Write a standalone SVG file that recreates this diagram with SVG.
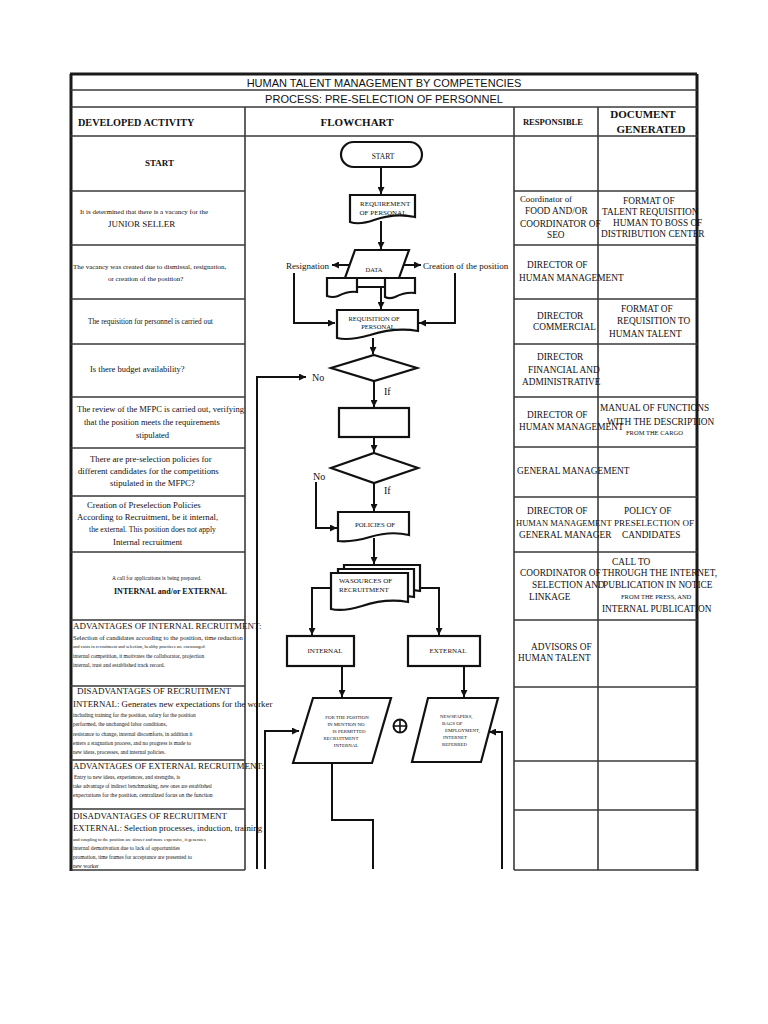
<svg xmlns="http://www.w3.org/2000/svg" width="768" height="1024" viewBox="0 0 768 1024">
<style>
.sr{font-family:"Liberation Serif","Times New Roman",serif;fill:#111}
.ss{font-family:"Liberation Sans",Arial,sans-serif;fill:#111}
.b{font-weight:bold}
.tl{stroke:#3a3a3a;stroke-width:1.6;fill:none}
.tk{stroke:#1a1a1a;stroke-width:3;fill:none}
.sh{fill:#fff;stroke:#111;stroke-width:2.2}
.c{fill:none;stroke:#111;stroke-width:2}
.m{text-anchor:middle}
</style>
<defs>
<marker id="ah" markerUnits="userSpaceOnUse" markerWidth="8" markerHeight="7" refX="7" refY="3.5" orient="auto">
<path d="M0,0 L7,3.5 L0,7 z" fill="#111"/>
</marker>
</defs>
<rect x="0" y="0" width="768" height="1024" fill="#fff"/>

<g id="table">
<line class="tk" x1="70" y1="74" x2="697" y2="74"/>
<line class="tk" x1="71" y1="74" x2="71" y2="871"/>
<line class="tk" x1="697" y1="74" x2="697" y2="871"/>
<line class="tl" x1="71" y1="90" x2="697" y2="90" stroke-width="2.2"/>
<line class="tl" x1="71" y1="107" x2="697" y2="107" stroke-width="2.2"/>
<line class="tl" x1="71" y1="136" x2="697" y2="136"/>
<line class="tl" x1="245" y1="107" x2="245" y2="870"/>
<line class="tl" x1="514" y1="107" x2="514" y2="870"/>
<line class="tl" x1="598" y1="107" x2="598" y2="870"/>
<path class="tl" d="M71,191H245M71,245H245M71,299H245M71,344H245M71,397H245M71,448H245M71,496H245M71,552H245M71,620H245M71,686H245M71,760H245M71,809H245M71,870H245"/>
<path class="tl" d="M514,191H697M514,245H697M514,299H697M514,344H697M514,397H697M514,447H697M514,497H697M514,552H697M514,620H697M514,687H697M514,761H697M514,810H697M514,870H697"/>
</g>

<g id="header">
<text class="ss m" x="384" y="87" font-size="11">HUMAN TALENT MANAGEMENT BY COMPETENCIES</text>
<text class="ss m" x="384" y="103" font-size="11">PROCESS: PRE-SELECTION OF PERSONNEL</text>
<text class="sr b" x="78" y="126" font-size="10.2">DEVELOPED ACTIVITY</text>
<text class="sr b m" x="357" y="126" font-size="11">FLOWCHART</text>
<text class="sr b m" x="553" y="125" font-size="8.6">RESPONSIBLE</text>
<text class="sr b m" x="643" y="118" font-size="11">DOCUMENT</text>
<text class="sr b m" x="651" y="133" font-size="11">GENERATED</text>
</g>

<g id="activities">
<text class="sr b" x="145" y="166" font-size="9">START</text>
<text class="sr" x="80" y="213.5" font-size="7">It is determined that there is a vacancy for the</text>
<text class="sr" x="108" y="227" font-size="9">JUNIOR SELLER</text>
<text class="sr" x="73" y="268.5" font-size="7">The vacancy was created due to dismissal, resignation,</text>
<text class="sr" x="108" y="281" font-size="7">or creation of the position?</text>
<text class="sr" x="88" y="323.5" font-size="7.3">The requisition for personnel is carried out</text>
<text class="sr" x="90" y="372" font-size="8.5">Is there budget availability?</text>
<text class="sr" x="77" y="412" font-size="8.5">The review of the MFPC is carried out, verifying</text>
<text class="sr" x="84" y="425" font-size="8.5">that the position meets the requirements</text>
<text class="sr" x="136" y="438" font-size="8.5">stipulated</text>
<text class="sr" x="90" y="462" font-size="8.7">There are pre-selection policies for</text>
<text class="sr" x="78" y="474" font-size="8.7">different candidates for the competitions</text>
<text class="sr" x="110" y="486" font-size="8.7">stipulated in the MFPC?</text>
<text class="sr" x="87" y="508" font-size="8.7">Creation of Preselection Policies</text>
<text class="sr" x="77" y="520" font-size="8.7">According to Recruitment, be it internal,</text>
<text class="sr" x="89" y="532" font-size="7.7">the external. This position does not apply</text>
<text class="sr" x="113" y="545" font-size="8.7">Internal recruitment</text>
<text class="sr" x="112" y="580" font-size="5.5">A call for applications is being prepared.</text>
<text class="sr b" x="114" y="594" font-size="8">INTERNAL and/or EXTERNAL</text>

<text class="sr" x="73" y="629" font-size="9">ADVANTAGES OF INTERNAL RECRUITMENT:</text>
<text class="sr" x="73" y="639.5" font-size="6.6">Selection of candidates according to the position, time reduction</text>
<text class="sr" x="73" y="648" font-size="4.6">and costs in recruitment and selection, healthy practices are encouraged</text>
<text class="sr" x="73" y="658" font-size="5.4">internal competition, it motivates the collaborator, projection</text>
<text class="sr" x="73" y="667" font-size="5.4">internal, trust and established track record.</text>

<text class="sr" x="77" y="694" font-size="9">DISADVANTAGES OF RECRUITMENT</text>
<text class="sr" x="73" y="707" font-size="8.8">INTERNAL: Generates new expectations for the worker</text>
<text class="sr" x="73" y="717" font-size="5.4">including training for the position, salary for the position</text>
<text class="sr" x="73" y="726" font-size="5.4">performed, the unchanged labor conditions,</text>
<text class="sr" x="73" y="736" font-size="5.4">resistance to change, internal discomforts, in addition it</text>
<text class="sr" x="73" y="745" font-size="5.4">enters a stagnation process, and no progress is made to</text>
<text class="sr" x="73" y="754" font-size="5.4">new ideas, processes, and internal policies.</text>

<text class="sr" x="73" y="769" font-size="9">ADVANTAGES OF EXTERNAL RECRUITMENT:</text>
<text class="sr" x="74" y="779" font-size="5.4">Entry to new ideas, experiences, and strengths, is</text>
<text class="sr" x="73" y="788" font-size="5.2">take advantage of indirect benchmarking, new ones are established</text>
<text class="sr" x="73" y="797" font-size="5.6">expectations for the position, centralized focus on the function</text>

<text class="sr" x="73" y="819" font-size="9">DISADVANTAGES OF RECRUITMENT</text>
<text class="sr" x="73" y="831" font-size="8.8">EXTERNAL: Selection processes, induction, training</text>
<text class="sr" x="73" y="841" font-size="4.6">and coupling to the position are slower and more expensive, it generates</text>
<text class="sr" x="73" y="850" font-size="5.4">internal demotivation due to lack of opportunities</text>
<text class="sr" x="73" y="859" font-size="5.4">promotion, time frames for acceptance are presented to</text>
<text class="sr" x="73" y="868" font-size="5.4">new worker</text>
</g>

<g id="responsible">
<text class="sr" x="520" y="202" font-size="8.8">Coordinator of</text>
<text class="sr" x="525" y="214" font-size="9.3">FOOD AND/OR</text>
<text class="sr" x="520" y="227" font-size="9.3">COORDINATOR OF</text>
<text class="sr" x="547" y="238" font-size="9.3">SEO</text>
<text class="sr" x="527" y="268" font-size="9.3">DIRECTOR OF</text>
<text class="sr" x="519" y="281" font-size="9.3">HUMAN MANAGEMENT</text>
<text class="sr" x="537" y="319" font-size="9.3">DIRECTOR</text>
<text class="sr" x="533" y="330" font-size="9.3">COMMERCIAL</text>
<text class="sr" x="537" y="360" font-size="9.3">DIRECTOR</text>
<text class="sr" x="528" y="373" font-size="9.3">FINANCIAL AND</text>
<text class="sr" x="522" y="385" font-size="9.3">ADMINISTRATIVE</text>
<text class="sr" x="527" y="418" font-size="9.3">DIRECTOR OF</text>
<text class="sr" x="519" y="430" font-size="9.3">HUMAN MANAGEMENT</text>
<text class="sr" x="517" y="474" font-size="9.3">GENERAL MANAGEMENT</text>
<text class="sr" x="527" y="514" font-size="9.3">DIRECTOR OF</text>
<text class="sr" x="516" y="526" font-size="8.5">HUMAN MANAGEMENT</text>
<text class="sr" x="519" y="538" font-size="9.3">GENERAL MANAGER</text>
<text class="sr" x="520" y="576" font-size="9.3">COORDINATOR OF</text>
<text class="sr" x="532" y="588" font-size="9.3">SELECTION AND</text>
<text class="sr" x="529" y="600" font-size="9.3">LINKAGE</text>
<text class="sr" x="531" y="650" font-size="9.3">ADVISORS OF</text>
<text class="sr" x="518" y="661" font-size="9.3">HUMAN TALENT</text>
</g>

<g id="documents">
<text class="sr" x="623" y="204" font-size="9.3">FORMAT OF</text>
<text class="sr" x="602" y="215" font-size="9.3">TALENT REQUISITION</text>
<text class="sr" x="613" y="226" font-size="9.3">HUMAN TO BOSS OF</text>
<text class="sr" x="601" y="237" font-size="9.3">DISTRIBUTION CENTER</text>
<text class="sr" x="621" y="312" font-size="9.3">FORMAT OF</text>
<text class="sr" x="617" y="324" font-size="9.3">REQUISITION TO</text>
<text class="sr" x="609" y="337" font-size="9.3">HUMAN TALENT</text>
<text class="sr" x="600" y="411" font-size="9.3">MANUAL OF FUNCTIONS</text>
<text class="sr" x="607" y="425" font-size="9.3">WITH THE DESCRIPTION</text>
<text class="sr" x="626" y="435" font-size="6.5">FROM THE CARGO</text>
<text class="sr" x="624" y="514" font-size="9.3">POLICY OF</text>
<text class="sr" x="614" y="526" font-size="9.1">PRESELECTION OF</text>
<text class="sr" x="622" y="538" font-size="9.3">CANDIDATES</text>
<text class="sr" x="612" y="565" font-size="9.3">CALL TO</text>
<text class="sr" x="602" y="576" font-size="9.3">THROUGH THE INTERNET,</text>
<text class="sr" x="603" y="588" font-size="9.3">PUBLICATION IN NOTICE</text>
<text class="sr" x="621" y="599" font-size="6.5">FROM THE PRESS, AND</text>
<text class="sr" x="602" y="612" font-size="9.3">INTERNAL PUBLICATION</text>
</g>

<g id="connectors">
<path class="c" d="M381,167V194" marker-end="url(#ah)"/>
<path class="c" d="M381,221V249" marker-end="url(#ah)"/>
<path class="c" d="M349,265H332" marker-end="url(#ah)"/>
<path class="c" d="M403,265H421" marker-end="url(#ah)"/>
<path class="c" d="M294,273V323H335" marker-end="url(#ah)"/>
<path class="c" d="M455,273V323H419" marker-end="url(#ah)"/>
<path class="c" d="M357,287H385"/>
<path class="c" d="M381,287V309" marker-end="url(#ah)"/>
<path class="c" d="M373,338V354" marker-end="url(#ah)"/>
<path class="c" d="M374,381V407" marker-end="url(#ah)"/>
<path class="c" d="M374,437V452" marker-end="url(#ah)"/>
<path class="c" d="M374,483V511" marker-end="url(#ah)"/>
<path class="c" d="M316,482V528H337" marker-end="url(#ah)"/>
<path class="c" d="M257,869V377H306" marker-end="url(#ah)"/>
<path class="c" d="M374,538V564" marker-end="url(#ah)"/>
<path class="c" d="M331,588H312V635" marker-end="url(#ah)"/>
<path class="c" d="M420,588H439V635" marker-end="url(#ah)"/>
<path class="c" d="M342,666V697" marker-end="url(#ah)"/>
<path class="c" d="M464,666V697" marker-end="url(#ah)"/>
<path class="c" d="M265,869V731H299" marker-end="url(#ah)"/>
<path class="c" d="M502,869V732H489" marker-end="url(#ah)"/>
<path class="c" d="M332,763V820H373V869"/>
</g>

<g id="n-start">
<rect class="sh" x="341" y="142" width="81" height="25" rx="12.5"/>
<text class="sr m" x="383" y="158.5" font-size="7.5">START</text>
</g>

<g id="n-requirement">
<path class="sh" d="M350,195H415V217C402,214 388,215 374,220C363,224 356,224 350,222Z"/>
<text class="sr" x="360" y="205.5" font-size="7">REQUIREMENT</text>
<text class="sr m" x="383" y="214.5" font-size="7">OF PERSONAL</text>
</g>

<g id="n-data">
<polygon class="sh" points="355,250 409,250 399,278 345,278"/>
<text class="sr m" x="374" y="272" font-size="6.5">DATA</text>
<path class="sh" d="M327,278H357V292C350,291 344,293 338,296C333,298 330,297 327,296Z"/>
<path class="sh" d="M385,278H415V293C408,292 401,294 395,297C390,299 387,298 385,297Z"/>
</g>
<text class="sr" x="286" y="268.5" font-size="9">Resignation</text>
<text class="sr" x="423" y="268.5" font-size="9">Creation of the position</text>

<g id="n-requisition">
<path class="sh" d="M337,310H418V331C402,328 386,330 370,335C356,339 345,340 337,338Z"/>
<text class="sr m" x="374" y="320.5" font-size="6.5">REQUISITION OF</text>
<text class="sr m" x="378" y="328.5" font-size="6.5">PERSONAL</text>
</g>

<g id="n-budget">
<polygon class="sh" points="374,355 417,368 374,381 331,368"/>
</g>
<text class="sr" x="312" y="380.5" font-size="10">No</text>
<text class="sr" x="384" y="394.5" font-size="10">If</text>

<g id="n-review">
<rect class="sh" x="339" y="408" width="70" height="29" stroke-width="2.8"/>
</g>

<g id="n-policies-q">
<polygon class="sh" points="374,453 418,468 374,483 331,468"/>
</g>
<text class="sr" x="313" y="479.5" font-size="10">No</text>
<text class="sr" x="384" y="493.5" font-size="10">If</text>

<g id="n-policies">
<path class="sh" d="M338,512H409V535C396,532 383,533 370,537C356,541 346,542 338,541Z"/>
<text class="sr m" x="375" y="526.5" font-size="6.8">POLICIES OF</text>
</g>

<g id="n-sources">
<path class="sh" d="M344,565H420V591C408,589 396,590 385,593L344,593Z"/>
<path class="sh" d="M338,569H414V597C402,595 390,596 379,599L338,599Z"/>
<path class="sh" d="M331,573H408V602C392,599 377,601 362,606C349,610 339,611 331,609Z"/>
<text class="sr" x="339" y="582.5" font-size="7">WASOURCES OF</text>
<text class="sr" x="339" y="591.5" font-size="7">RECRUITMENT</text>
</g>

<g id="n-internal">
<rect class="sh" x="287" y="636" width="67" height="30"/>
<text class="sr m" x="325" y="652.5" font-size="7">INTERNAL</text>
</g>

<g id="n-external">
<rect class="sh" x="408" y="636" width="72" height="30"/>
<text class="sr m" x="448" y="652.5" font-size="7">EXTERNAL</text>
</g>

<g id="n-internal-doc">
<polygon class="sh" points="313,698 391,698 372,763 293,763"/>
<text class="sr m" x="347" y="719" font-size="4.9">FOR THE POSITION</text>
<text class="sr m" x="346" y="726" font-size="4.9">IN MENTION NO</text>
<text class="sr m" x="349" y="733" font-size="4.9">IS PERMITTED</text>
<text class="sr m" x="341" y="740" font-size="4.9">RECRUITMENT</text>
<text class="sr m" x="346" y="747" font-size="4.9">INTERNAL</text>
</g>

<g id="n-plus">
<circle cx="400" cy="726" r="6.5" fill="#fff" stroke="#111" stroke-width="2"/>
<path d="M393.5,726H406.5M400,719.5V732.5" stroke="#111" stroke-width="1.6"/>
</g>

<g id="n-external-doc">
<polygon class="sh" points="428,698 498,698 481,762 412,762"/>
<text class="sr" x="440" y="718" font-size="4.9">NEWSPAPERS,</text>
<text class="sr" x="442" y="725" font-size="4.9">BAGS OF</text>
<text class="sr" x="445" y="732" font-size="4.9">EMPLOYMENT,</text>
<text class="sr" x="443" y="739" font-size="4.9">INTERNET</text>
<text class="sr" x="442" y="746" font-size="4.9">REFERRED</text>
</g>
</svg>
